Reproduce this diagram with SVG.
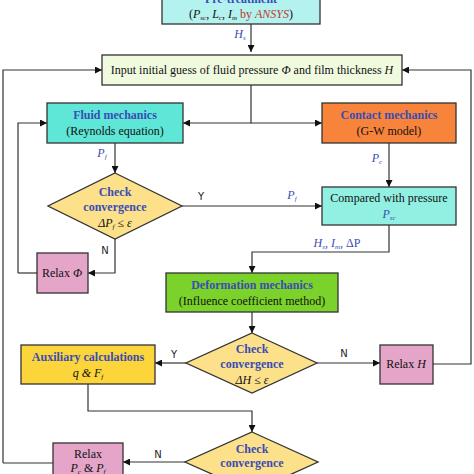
<svg xmlns="http://www.w3.org/2000/svg" width="474" height="474" viewBox="0 0 474 474">
<style>
text{font-family:"Liberation Serif","Times New Roman",serif;font-size:12px;text-anchor:middle;fill:#111}
.b{fill:#3a4cb5;font-weight:bold}
.i{fill:#3a4cb5;font-style:italic}
.box{stroke:#333;stroke-width:1.3}
.ln{fill:none;stroke:#333;stroke-width:1.2}
.lb{font-family:"DejaVu Sans",sans-serif;font-size:10px;fill:#222}
</style>
<defs>
<marker id="a" viewBox="0 0 10 10" refX="10" refY="5" markerWidth="7" markerHeight="7" orient="auto" markerUnits="userSpaceOnUse">
<path d="M0,0 L10,5 L0,10 z" fill="#111"/>
</marker>
</defs>
<rect width="474" height="474" fill="#fff"/>
<g id="connectors">
<path class="ln" d="M251,24 V52" marker-end="url(#a)"/>
<path class="ln" d="M3,463 V70 H102" marker-end="url(#a)"/>
<path class="ln" d="M433,364 H471 V70 H402" marker-end="url(#a)"/>
<path class="ln" d="M251,85 V123 H183" marker-end="url(#a)"/>
<path class="ln" d="M251,123 H322" marker-end="url(#a)"/>
<path class="ln" d="M18,273 V123 H47" marker-end="url(#a)"/>
<path class="ln" d="M115,143 V173" marker-end="url(#a)"/>
<path class="ln" d="M182,206 H322" marker-end="url(#a)"/>
<path class="ln" d="M115,239 V273 H88" marker-end="url(#a)"/>
<path class="ln" d="M18,273 H37"/>
<path class="ln" d="M389,143 V187" marker-end="url(#a)"/>
<path class="ln" d="M389,225 V252 H252 V273" marker-end="url(#a)"/>
<path class="ln" d="M252,312 V333" marker-end="url(#a)"/>
<path class="ln" d="M186,363 H155" marker-end="url(#a)"/>
<path class="ln" d="M317,363 H380" marker-end="url(#a)"/>
<path class="ln" d="M88,384 V411 H252 V432" marker-end="url(#a)"/>
<path class="ln" d="M185,462 H123" marker-end="url(#a)"/>
<path class="ln" d="M53,463 H3"/>
<text class="i" x="240" y="38">H<tspan font-size="7" dy="2">s</tspan></text>
<text class="i" x="102" y="157">P<tspan font-size="7" dy="2">f</tspan></text>
<text class="lb" x="201" y="200">Y</text>
<text class="i" x="292" y="199">P<tspan font-size="7" dy="2">f</tspan></text>
<text class="i" x="377" y="162">P<tspan font-size="7" dy="2">c</tspan></text>
<text class="lb" x="105" y="254">N</text>
<text class="i" x="337" y="247">H<tspan font-size="7" dy="2">s</tspan><tspan dy="-2">, I</tspan><tspan font-size="7" dy="2">m</tspan><tspan dy="-2" font-style="normal">, ΔP</tspan></text>
<text class="lb" x="174" y="358">Y</text>
<text class="lb" x="344" y="357">N</text>
<text class="lb" x="158" y="458">N</text>
</g>
<g id="pretreatment">
<rect class="box" x="162" y="-10" width="158" height="34" fill="#b3f2ee"/>
<text class="b" x="241" y="3">Pre-treatment</text>
<text x="241" y="18">(<tspan font-style="italic">P</tspan><tspan font-size="7" dy="2" font-style="italic">sc</tspan><tspan dy="-2">, </tspan><tspan font-style="italic">L</tspan><tspan font-size="7" dy="2" font-style="italic">c</tspan><tspan dy="-2">, </tspan><tspan font-style="italic">I</tspan><tspan font-size="7" dy="2" font-style="italic">m</tspan><tspan dy="-2" fill="#c0392b"> by </tspan><tspan fill="#c0392b" font-style="italic">ANSYS</tspan>)</text>
</g>
<g id="input">
<rect class="box" x="102" y="55" width="300" height="30" fill="#effadf"/>
<text x="252" y="74">Input initial guess of fluid pressure <tspan font-style="italic">Φ</tspan> and film thickness <tspan font-style="italic">H</tspan></text>
</g>
<g id="fluid">
<rect class="box" x="47" y="103" width="136" height="40" fill="#5ee6d6"/>
<text class="b" x="115" y="119">Fluid mechanics</text>
<text x="115" y="135">(Reynolds equation)</text>
</g>
<g id="contact">
<rect class="box" x="322" y="103" width="134" height="40" fill="#f7843a"/>
<text class="b" x="389" y="119">Contact mechanics</text>
<text x="389" y="135">(G-W model)</text>
</g>
<g id="check1">
<path class="box" d="M115,173 L182,206 L115,239 L48,206 z" fill="#fce08a"/>
<text class="b" x="115" y="196">Check</text>
<text class="b" x="115" y="211">convergence</text>
<text x="115" y="227" font-style="italic">ΔP<tspan font-size="7" dy="2">f</tspan><tspan dy="-2"> ≤ ε</tspan></text>
</g>
<g id="compared">
<rect class="box" x="322" y="187" width="134" height="38" fill="#92f0e2"/>
<text x="389" y="202">Compared with pressure</text>
<text class="i" x="389" y="218">P<tspan font-size="7" dy="2">sc</tspan></text>
</g>
<g id="relaxphi">
<rect class="box" x="37" y="253" width="51" height="40" fill="#e5a5c9"/>
<text x="62" y="277">Relax <tspan font-style="italic">Φ</tspan></text>
</g>
<g id="deformation">
<rect class="box" x="166" y="273" width="172" height="39" fill="#7bd22a"/>
<text class="b" x="252" y="289">Deformation mechanics</text>
<text x="252" y="305">(Influence coefficient method)</text>
</g>
<g id="check2">
<path class="box" d="M252,333 L317,363 L252,393 L186,363 z" fill="#fce08a"/>
<text class="b" x="252" y="353">Check</text>
<text class="b" x="252" y="368">convergence</text>
<text x="252" y="384" font-style="italic">ΔH ≤ ε</text>
</g>
<g id="auxiliary">
<rect class="box" x="21" y="345" width="134" height="39" fill="#fbd53a"/>
<text class="b" x="88" y="361">Auxiliary calculations</text>
<text x="88" y="377" font-style="italic">q &amp; F<tspan font-size="7" dy="2">f</tspan></text>
</g>
<g id="relaxh">
<rect class="box" x="380" y="345" width="53" height="39" fill="#e5a5c9"/>
<text x="406" y="368">Relax <tspan font-style="italic">H</tspan></text>
</g>
<g id="check3">
<path class="box" d="M252,432 L318,462 L252,492 L185,462 z" fill="#fce08a"/>
<text class="b" x="252" y="453">Check</text>
<text class="b" x="252" y="467">convergence</text>
</g>
<g id="relaxp">
<rect class="box" x="53" y="443" width="70" height="40" fill="#e5a5c9"/>
<text x="88" y="458">Relax</text>
<text x="88" y="472" font-style="italic">P<tspan font-size="7" dy="2">c</tspan><tspan dy="-2" font-style="normal"> &amp; </tspan>P<tspan font-size="7" dy="2">f</tspan></text>
</g>
</svg>
